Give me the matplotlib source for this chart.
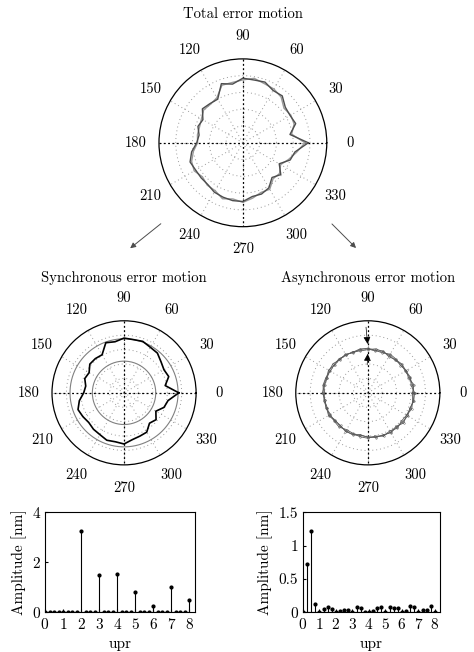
import numpy as np
import matplotlib.pyplot as plt
from matplotlib.patches import FancyArrowPatch

plt.rcParams.update({
    "font.family": "serif",
    "font.serif": ["cmr10", "DejaVu Serif"],
    "axes.formatter.use_mathtext": True,
    "font.size": 10.5,
})

# polar angles (deg) every 10 deg
ANGLES = list(range(0, 360, 10))

# total error motion radius (fraction of outer circle)
total_r = [0.78, 0.57, 0.67, 0.65, 0.66, 0.73, 0.72, 0.77, 0.76, 0.77, 0.71, 0.75,
           0.60, 0.61, 0.63, 0.55, 0.57, 0.53, 0.55, 0.62, 0.67, 0.65, 0.65, 0.65,
           0.68, 0.69, 0.70, 0.70, 0.65, 0.65, 0.62, 0.54, 0.59, 0.50, 0.60, 0.63]
total_r2 = [0.74, 0.59, 0.65, 0.66, 0.64, 0.71, 0.74, 0.75, 0.78, 0.75, 0.73, 0.73,
            0.62, 0.60, 0.61, 0.57, 0.55, 0.55, 0.54, 0.60, 0.65, 0.67, 0.63, 0.66,
            0.66, 0.71, 0.68, 0.71, 0.67, 0.63, 0.64, 0.56, 0.57, 0.52, 0.58, 0.65]

# synchronous error motion radius
sync_r = [0.76, 0.58, 0.66, 0.64, 0.67, 0.72, 0.73, 0.76, 0.75, 0.76, 0.72, 0.74,
          0.61, 0.62, 0.62, 0.56, 0.58, 0.54, 0.56, 0.63, 0.68, 0.66, 0.64, 0.66,
          0.67, 0.70, 0.69, 0.71, 0.66, 0.64, 0.63, 0.55, 0.58, 0.51, 0.59, 0.62]
sync_rings = [0.44, 0.75]

# asynchronous error motion, three revolutions
async_r1 = [0.64, 0.63, 0.62, 0.60, 0.61, 0.59, 0.60, 0.61, 0.62, 0.60, 0.59, 0.61,
            0.60, 0.62, 0.61, 0.60, 0.62, 0.63, 0.62, 0.61, 0.60, 0.62, 0.59, 0.60,
            0.61, 0.62, 0.60, 0.61, 0.63, 0.62, 0.64, 0.62, 0.63, 0.64, 0.62, 0.65]
async_r2 = [0.62, 0.65, 0.60, 0.62, 0.59, 0.61, 0.62, 0.59, 0.60, 0.62, 0.61, 0.59,
            0.62, 0.60, 0.63, 0.62, 0.60, 0.61, 0.63, 0.60, 0.62, 0.60, 0.61, 0.62,
            0.59, 0.60, 0.62, 0.63, 0.61, 0.64, 0.61, 0.64, 0.61, 0.62, 0.65, 0.63]
async_r3 = [0.65, 0.61, 0.63, 0.61, 0.62, 0.60, 0.58, 0.62, 0.59, 0.61, 0.62, 0.60,
            0.61, 0.61, 0.60, 0.63, 0.61, 0.62, 0.60, 0.62, 0.61, 0.63, 0.60, 0.59,
            0.62, 0.61, 0.59, 0.62, 0.62, 0.63, 0.63, 0.61, 0.65, 0.62, 0.63, 0.64]

# spectra
upr = [i * 0.25 for i in range(33)]
sync_amp = [0] * 33
for k, v in {8: 3.25, 12: 1.5, 16: 1.55, 20: 0.8, 24: 0.25, 28: 1.0, 32: 0.5}.items():
    sync_amp[k] = v
async_amp = [0, 0.72, 1.22, 0.13, 0, 0.05, 0.08, 0.05, 0, 0.02, 0.04, 0.04, 0,
             0.08, 0.07, 0.01, 0, 0.02, 0.06, 0.08, 0, 0.08, 0.07, 0.07, 0,
             0.02, 0.09, 0.08, 0, 0.03, 0.03, 0.09, 0]

W, H = 474, 652
fig = plt.figure(figsize=(W / 100, H / 100), dpi=100)


def polar_frame(ax, outer_lw=0.9):
    ax.set_ylim(0, 1)
    ax.set_thetagrids(range(0, 360, 30), [str(a) for a in range(0, 360, 30)])
    ax.set_rgrids([0.2, 0.4, 0.6, 0.8], labels=[])
    ax.grid(True, color="0.6", linestyle=(0, (1, 3)), linewidth=0.7)
    ax.spines["polar"].set_linewidth(outer_lw)
    ax.tick_params(pad=6)
    for a in [0, np.pi / 2]:
        ax.plot([a, a + np.pi], [1, 1], color="k", linestyle=(0, (1.5, 2)), linewidth=0.9)


def closed(r):
    th = np.deg2rad(ANGLES + [360])
    return th, list(r) + [r[0]]


# top polar
ax = fig.add_axes([0.3354, 0.652, 0.354, 0.258], projection="polar")
polar_frame(ax)
ax.plot(*closed(total_r2), color="0.6", linewidth=1.0)
ax.plot(*closed(total_r), color="0.3", linewidth=1.0)
fig.text(243 / W, 1 - 14 / H, "Total error motion", ha="center", va="center")

# synchronous
ax = fig.add_axes([0.1097, 0.287, 0.304, 0.221], projection="polar")
polar_frame(ax)
full = np.linspace(0, 2 * np.pi, 200)
for rr in sync_rings:
    ax.plot(full, [rr] * len(full), color="0.5", linewidth=0.8)
ax.plot(*closed(sync_r), color="k", linewidth=1.2)
fig.text(124 / W, 1 - 278 / H, "Synchronous error motion", ha="center", va="center")

# asynchronous
ax = fig.add_axes([0.624, 0.287, 0.304, 0.221], projection="polar")
polar_frame(ax)
for r in (async_r1, async_r2, async_r3):
    ax.plot(*closed(r), color="0.35", linewidth=0.6, marker="o", markersize=1.2,
            markerfacecolor="none", markeredgewidth=0.3)
ax.annotate("", xy=(np.pi / 2, 0.64), xytext=(np.pi / 2 + 0.03, 0.95),
            arrowprops=dict(arrowstyle="-|>", color="k", lw=0.5))
ax.annotate("", xy=(np.pi / 2, 0.58), xytext=(np.pi / 2 + 0.03, 0.35),
            arrowprops=dict(arrowstyle="-|>", color="k", lw=0.5))
fig.text(368 / W, 1 - 278 / H, "Asynchronous error motion", ha="center", va="center")

# arrows between rows
for (x0, y0, x1, y1) in [(163, 222, 128, 250), (330, 222, 358, 250)]:
    fig.patches.append(FancyArrowPatch((x0 / W, 1 - y0 / H), (x1 / W, 1 - y1 / H),
                                       transform=fig.transFigure, arrowstyle="-|>",
                                       mutation_scale=8, color="0.3", lw=0.7))


def stems(ax, y, ymax, yticks, yticklabels):
    ml, sl, bl = ax.stem(upr, y, linefmt="k-", markerfmt="k.", basefmt="k-")
    plt.setp(sl, linewidth=0.8)
    plt.setp(ml, markersize=4)
    plt.setp(bl, linewidth=0.8)
    ax.set_xlim(0, 8.3)
    ax.set_ylim(0, ymax)
    ax.set_xticks(range(9))
    ax.set_yticks(yticks)
    ax.set_yticklabels(yticklabels)
    ax.tick_params(direction="in", length=2, labelsize=11)
    ax.set_xlabel("upr", fontsize=11)
    ax.set_ylabel("Amplitude [nm]", fontsize=11)


ax = fig.add_axes([0.095, 0.061, 0.316, 0.153])
stems(ax, sync_amp, 4, [0, 2, 4], ["0", "2", "4"])
ax = fig.add_axes([0.639, 0.061, 0.289, 0.153])
stems(ax, async_amp, 1.5, [0, 0.5, 1, 1.5], ["0", "0.5", "1", "1.5"])

fig.savefig("out.png", dpi=100)
